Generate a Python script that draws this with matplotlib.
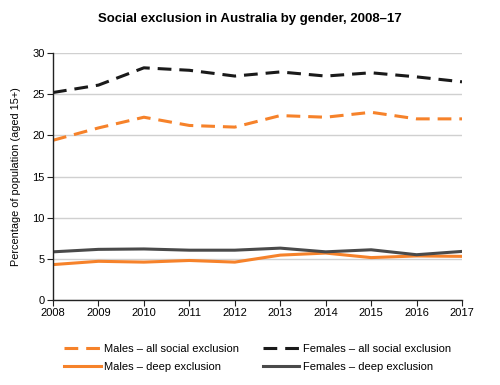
import matplotlib.pyplot as plt

plt.rcParams["font.family"] = ["Liberation Sans", "DejaVu Sans"]

years = [2008, 2009, 2010, 2011, 2012, 2013, 2014, 2015, 2016, 2017]
males_all = [19.4, 20.9, 22.2, 21.2, 21.0, 22.4, 22.2, 22.8, 22.0, 22.0]
females_all = [25.2, 26.1, 28.2, 27.9, 27.2, 27.7, 27.2, 27.6, 27.1, 26.5]
males_deep = [4.3, 4.7, 4.6, 4.8, 4.6, 5.45, 5.7, 5.15, 5.35, 5.3]
females_deep = [5.85, 6.15, 6.2, 6.05, 6.05, 6.3, 5.85, 6.1, 5.5, 5.9]

ORANGE = "#f6822a"
BLACK = "#1a1a1a"
GREY = "#4a4a4a"

fig = plt.figure(figsize=(5, 3.85), dpi=100)
ax = fig.add_axes([53 / 500, 1 - 300 / 385, (462 - 53) / 500, (300 - 53) / 385])

dash = (4.5, 2.6)
ax.plot(years, males_all, color=ORANGE, lw=2.2, dashes=dash, label="Males – all social exclusion")
ax.plot(years, females_all, color=BLACK, lw=2.2, dashes=dash, label="Females – all social exclusion")
ax.plot(years, males_deep, color=ORANGE, lw=2.2, label="Males – deep exclusion")
ax.plot(years, females_deep, color=GREY, lw=2.2, label="Females – deep exclusion")

ax.set_xlim(2008, 2017)
ax.set_ylim(0, 30)
ax.set_xticks(years)
ax.set_yticks(range(0, 31, 5))
ax.grid(axis="y", color="#d0d0d0", lw=1)
ax.set_axisbelow(True)
for s in ["top", "right"]:
    ax.spines[s].set_visible(False)
for s in ["left", "bottom"]:
    ax.spines[s].set_color("#222222")
    ax.spines[s].set_linewidth(1)
ax.tick_params(labelsize=8, length=4, color="#222222", pad=2)
ax.set_ylabel("Percentage of population (aged 15+)", fontsize=7.8, labelpad=8)

fig.suptitle("Social exclusion in Australia by gender, 2008–17", fontsize=9.5,
             fontweight="bold", y=1 - 19 / 385, va="center")

h, l = ax.get_legend_handles_labels()
order = [0, 2, 1, 3]
fig.legend([h[i] for i in order], [l[i] for i in order], ncol=2, frameon=False,
           fontsize=8, loc="center", bbox_to_anchor=(0.515, 1 - 358 / 385),
           handlelength=3.3, columnspacing=2.1, handletextpad=0.3, labelspacing=0.75)

fig.savefig("out.png", dpi=100)
